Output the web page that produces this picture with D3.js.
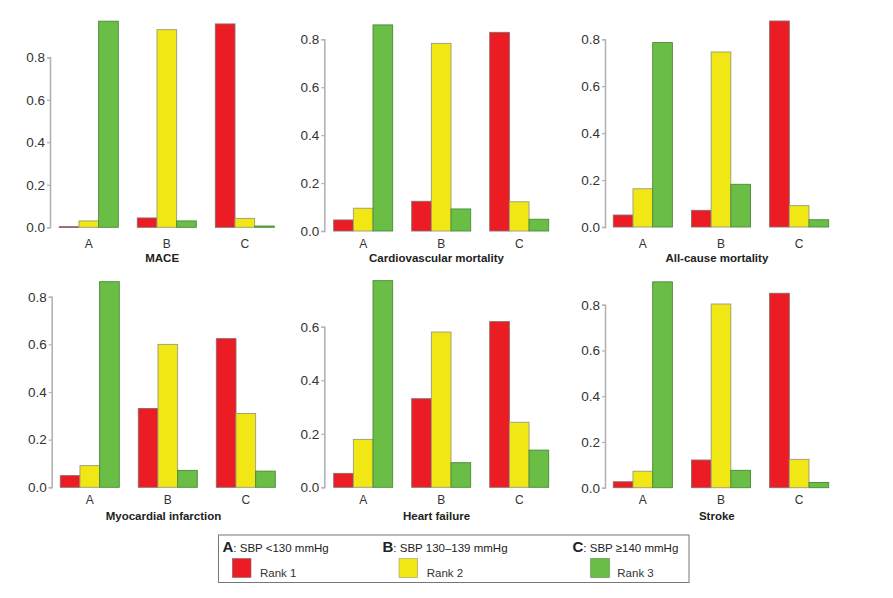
<!DOCTYPE html>
<html><head><meta charset="utf-8">
<script src="https://cdn.jsdelivr.net/npm/d3@7"></script>
<style>body{margin:0;background:#fff}svg{display:block;font-family:"Liberation Sans",Arial,sans-serif}</style>
</head><body><svg id="c" width="893" height="598"></svg>
<script>
const groups = ["A","B","C"];
const ranks = ["Rank 1","Rank 2","Rank 3"];
const titles = ["MACE","Cardiovascular mortality","All-cause mortality","Myocardial infarction","Heart failure","Stroke"];
// values per group (A,B,C) -> [Rank 1, Rank 2, Rank 3]
const mace = [[0.003,0.030,0.970],[0.044,0.930,0.030],[0.957,0.042,0.006]];
const cvMortality = [[0.046,0.095,0.860],[0.124,0.783,0.092],[0.829,0.122,0.049]];
const allCause = [[0.051,0.163,0.786],[0.071,0.746,0.182],[0.878,0.091,0.031]];
const myocardial = [[0.049,0.091,0.863],[0.331,0.600,0.071],[0.624,0.310,0.068]];
const heartFailure = [[0.052,0.179,0.772],[0.331,0.580,0.092],[0.619,0.243,0.139]];
const stroke = [[0.026,0.072,0.900],[0.121,0.803,0.076],[0.850,0.124,0.023]];
const ticks8 = [0,0.2,0.4,0.6,0.8];
const ticks6 = [0,0.2,0.4,0.6];
const legendGroups = ["A","B","C"];
const legendLabels = [": SBP <130 mmHg",": SBP 130\u2013139 mmHg",": SBP \u2265140 mmHg"];

const datasets = [mace,cvMortality,allCause,myocardial,heartFailure,stroke];
const tickSets = [ticks8,ticks8,ticks8,ticks8,ticks6,ticks8];
const colors = ["#ec1c24","#f1e714","#6abd45"];
const strokes = ["#8a6a6a","#9a9a7a","#4a8a3a"];

// layout (pixel geometry of each panel)
const layout = [
  {ax:50,   zero:227.3, top:57.3,  x0:59.3,  x1:274.3, catY:248, titleY:262},
  {ax:324.3,zero:231,   top:39.3,  x0:333.7, x1:548.7, catY:248, titleY:262},
  {ax:605,  zero:227,   top:39.3,  x0:613.3, x1:828.7, catY:248, titleY:262},
  {ax:51.7, zero:487.3, top:296.7, x0:60.3,  x1:275.3, catY:504, titleY:520},
  {ax:324.3,zero:487.3, top:326.7, x0:333.7, x1:548.7, catY:504, titleY:520},
  {ax:605,  zero:487.7, top:304.7, x0:613.3, x1:828.7, catY:504, titleY:520}
];

const svg = d3.select("#c");

datasets.forEach((data,i)=>{
  const L = layout[i];
  const tv = tickSets[i];
  const maxT = d3.max(tv);
  const y = d3.scaleLinear().domain([0,maxT]).range([L.zero,L.top]);
  const x = d3.scaleBand().domain(groups).range([L.x0,L.x1]).paddingInner(0.244).paddingOuter(0);
  const xr = d3.scaleBand().domain(ranks).range([0,x.bandwidth()]);
  const g = svg.append("g");

  // axis
  const axis = d3.axisLeft(y).tickValues(tv).tickFormat(d3.format(".1f")).tickSize(3).tickPadding(2);
  const ag = g.append("g").attr("transform",`translate(${L.ax},0)`).call(axis);
  ag.select(".domain").attr("stroke","#b3b3b3").attr("stroke-width",1.6);
  ag.selectAll(".tick line").attr("stroke","#b3b3b3").attr("stroke-width",1.2);
  ag.selectAll(".tick text").attr("fill","#333").style("font-size","13.5px").style("font-family","'Liberation Sans',Arial,sans-serif");

  // bars
  const gg = g.selectAll(".grp").data(groups).join("g")
    .attr("transform",d=>`translate(${x(d)},0)`);
  gg.selectAll("rect").data((d,gi)=>ranks.map((r,ri)=>({r,ri,v:data[groups.indexOf(d)][ri]})))
    .join("rect")
    .attr("x",d=>xr(d.r))
    .attr("width",xr.bandwidth())
    .attr("y",d=>y(d.v))
    .attr("height",d=>Math.max(0.8,y(0)-y(d.v)))
    .attr("fill",d=>colors[d.ri])
    .attr("stroke",d=>strokes[d.ri])
    .attr("stroke-width",0.9);

  // category labels
  g.selectAll(".cat").data(groups).join("text")
    .attr("x",d=>x(d)+x.bandwidth()/2)
    .attr("y",L.catY)
    .attr("text-anchor","middle")
    .attr("fill","#333")
    .style("font-size","12px")
    .text(d=>d);

  g.append("text")
    .attr("x",(L.ax+L.x1)/2)
    .attr("y",L.titleY)
    .attr("text-anchor","middle")
    .attr("fill","#222")
    .style("font-size","11.5px")
    .style("font-weight","bold")
    .text(titles[i]);
});

// legend
const lg = svg.append("g");
lg.append("rect").attr("x",218.5).attr("y",535).attr("width",470.5).attr("height",47.5)
  .attr("fill","#fff").attr("stroke","#777").attr("stroke-width",1);
const legX = [222.5,382.5,572.5];
const swX = [232.3,399,590.7];
const rankX = [260,426.7,617.3];
legendGroups.forEach((k,i)=>{
  const t = lg.append("text").attr("x",legX[i]).attr("y",552).attr("fill","#222");
  t.append("tspan").style("font-size","15px").style("font-weight","bold").text(k);
  t.append("tspan").style("font-size","11.5px").text(legendLabels[i]);
  lg.append("rect").attr("x",swX[i]).attr("y",558.5).attr("width",18.7).attr("height",19)
    .attr("fill",colors[i]).attr("stroke",strokes[i]).attr("stroke-width",0.6);
  lg.append("text").attr("x",rankX[i]).attr("y",577).attr("fill","#333")
    .style("font-size","11.5px").text(ranks[i]);
});
</script></body></html>
